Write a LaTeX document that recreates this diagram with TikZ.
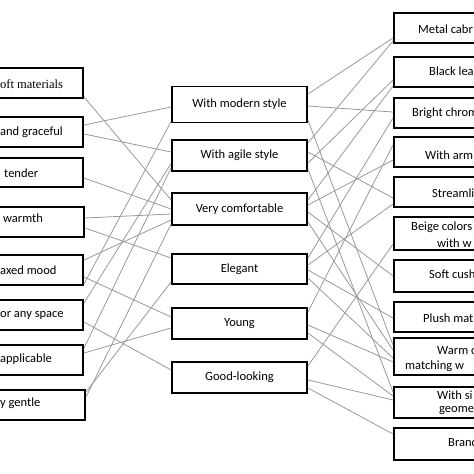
\documentclass[tikz,border=0pt]{standalone}
\usepackage{fontspec}
\setmainfont{Carlito}
\newfontfamily\timesfont{Liberation Serif}
\usetikzlibrary{calc}
\tikzset{
    % Boxes of the three columns, their words and the grey links
    word box/.style={draw,line width=1.8pt,minimum width=130pt,inner sep=0}, mid box/.style={draw,line width=1.8pt,minimum width=135pt,minimum height=31pt,inner sep=0},
    word/.style={inner sep=0,anchor=west}, link/.style={draw=black!40,line width=0.8pt}
    }

\begin{document}
\begin{tikzpicture}[x=1pt,y=-1pt,font=\fontsize{12.5}{15}\selectfont]
        \useasboundingbox (0,0) rectangle (474,474);
        \clip (0,0) rectangle (474,474);
        % Left column
        \node(l1)[word box,minimum height=30pt,anchor=east] at (84,83) {};
        \node(l2)[word box,minimum height=30pt,anchor=east] at (84,132) {};
        \node(l3)[word box,minimum height=29pt,anchor=east] at (84,172.5) {};
        \node(l4)[word box,minimum height=30pt,anchor=east] at (85,222) {};
        \node(l5)[word box,minimum height=30pt,anchor=east] at (84,270) {};
        \node(l6)[word box,minimum height=30pt,anchor=east] at (84,315) {};
        \node(l7)[word box,minimum height=30pt,anchor=east] at (84,360) {};
        \node(l8)[word box,minimum height=30pt,anchor=east] at (86,405) {};
        \node(l1t)[word,font=\timesfont\fontsize{12.5}{15}\selectfont] at (0,84) {oft materials};
        \node(l2t)[word] at (0,132) {and graceful};
        \node(l3t)[word] at (4,173) {tender};
        \node(l4t)[word] at (3,218) {warmth};
        \node(l5t)[word] at (0,270) {axed mood};
        \node(l6t)[word] at (0,315) {or any space};
        \node(l7t)[word] at (0,359) {applicable};
        \node(l8t)[word] at (0,403) {y gentle};
        % Middle column
        \node(m1)[mid box,minimum height=36pt] at (239.5,104.5) {With modern style};
        \node(m2)[mid box] at (239.5,155.5) {With agile style};
        \node(m3)[mid box,minimum height=32pt] at (239.5,209) {Very comfortable};
        \node(m4)[mid box,minimum height=30pt] at (239.5,269) {Elegant};
        \node(m5)[mid box] at (239.5,323.5) {Young};
        \node(m6)[mid box] at (239.5,377.5) {Good-looking};
        % Right column
        \node(r1)[word box,minimum height=30pt,anchor=west] at (393,28) {};
        \node(r2)[word box,minimum height=30pt,anchor=west] at (393,72) {};
        \node(r3)[word box,minimum height=30pt,anchor=west] at (393,113) {};
        \node(r4)[word box,minimum height=30pt,anchor=west] at (393,152) {};
        \node(r5)[word box,minimum height=30pt,anchor=west] at (393,192) {};
        \node(r6)[word box,minimum height=33pt,anchor=west] at (393,233.5) {};
        \node(r7)[word box,minimum height=32pt,anchor=west] at (393,276) {};
        \node(r8)[word box,minimum height=30pt,anchor=west] at (393,317) {};
        \node(r9)[word box,minimum height=37pt,anchor=west] at (393,356.5) {};
        \node(r10)[word box,minimum height=31pt,anchor=west] at (393,402.5) {};
        \node(r11)[word box,minimum height=32pt,anchor=west] at (393,444) {};
        \node(r1t)[word] at (418,29) {Metal cabr};
        \node(r2t)[word] at (429,71) {Black lea};
        \node(r3t)[word] at (412,113) {Bright chrom};
        \node(r4t)[word] at (425,155) {With arm};
        \node(r5t)[word] at (432,193) {Streamli};
        \node(r6a)[word] at (411,227) {Beige colors};
        \node(r6b)[word] at (437,243) {with w};
        \node(r7t)[word] at (429,274) {Soft cush};
        \node(r8t)[word] at (423,318) {Plush mat};
        \node(r9a)[word] at (437,351) {Warm c};
        \node(r9b)[word] at (405,366) {matching w};
        \node(r10a)[word] at (437,395) {With si};
        \node(r10b)[word] at (439,411) {geome};
        \node(r11t)[word] at (448,442) {Brand r};
        % Links, left to middle
        \foreach \a/\da/\b/\db in {l1/14/m3/-9, l2/-7/m1/2.5, l2/2/m2/-3.5, l3/5.5/m3/0, l4/-4/m3/5, l4/6/m4/-11, l5/-10/m3/11, l5/7/m5/-6.5, l6/7/m6/-7.5, l7/-7/m5/4.5, l8/-13/m4/13, l7/-12/m2/12.5, l5/14/m1/17, l6/-12/m2/8, l8/-8/m3/15}
            \draw[link] ($(\a.east)+(0,\da)$) -- ($(\b.west)+(0,\db)$);
        % Links, middle to right
        \foreach \a/\da/\b/\db in {m1/-10.5/r1/10, m1/1.5/r3/-1, m1/15.5/r9/-11.5, m2/-12.5/r1/13, m2/7.5/r2/8, m2/-3.5/r5/6, m2/13.5/r10/-10.5, m3/-9/r2/14, m3/-4/r4/8, m3/3/r7/0, m3/13/r9/-6.5, m4/-11/r3/5, m4/-4/r5/12, m4/1/r8/1, m4/9/r9/1.5, m5/-11.5/r4/-7, m5/1.5/r9/5.5, m5/9.5/r10/-6.5, m6/-11.5/r6/10.5, m6/2.5/r10/-2.5, m6/10.5/r11/-10}
            \draw[link] ($(\a.east)+(0,\da)$) -- ($(\b.west)+(0,\db)$);
\end{tikzpicture}
\end{document}
